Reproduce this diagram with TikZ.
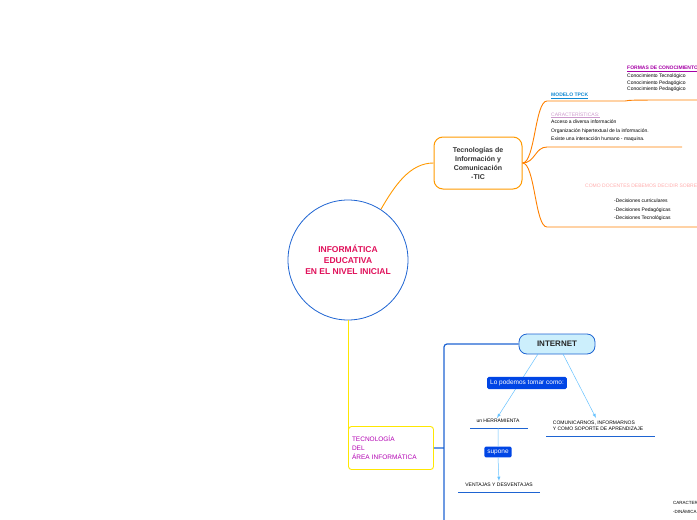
\documentclass[tikz,border=0pt]{standalone}
\usepackage{fontspec}
\setmainfont{Liberation Sans}
\begin{document}
\begin{tikzpicture}[x=1pt,y=-1pt,
 sm/.style={font=\fontsize{5}{6.5}\selectfont,inner sep=0pt},
 bluebox/.style={fill=blue!70!cyan!90!black,rounded corners=1.5pt,text=white,font=\fontsize{6.5}{8}\selectfont,inner sep=3pt},
 org/.style={draw=orange,line width=0.9pt},
 thin/.style={draw=blue!40!cyan!60,line width=0.5pt}]
\useasboundingbox (0,0) rectangle (697,520);
\definecolor{mag}{HTML}{E0105A}
\definecolor{bl}{HTML}{1E64D2}
% central
\node[circle,draw=bl,line width=0.8pt,minimum size=120pt,align=center,text=mag,font=\bfseries\fontsize{8.5}{11}\selectfont] (c) at (348,260) {INFORMÁTICA\\EDUCATIVA\\EN EL NIVEL INICIAL};
% TIC
\node[draw=orange!80!yellow,line width=1pt,rounded corners=9pt,minimum width=88pt,minimum height=52pt,align=center,text=black!80,font=\bfseries\fontsize{7}{9}\selectfont] (tic) at (478,163) {Tecnologías de\\Información y\\Comunicación\\-TIC};
\draw[draw=orange!80!yellow,line width=0.9pt] (c.57) .. controls (395,185) and (410,163) .. (tic.west);
% branches
\coordinate (a1) at (547,101);
\coordinate (a2) at (547,147);
\coordinate (a3) at (547,227);
\draw[org] (tic.east) .. controls (535,163) and (535,101) .. (a1) -- (625,101) .. controls (630,100) .. (697,100);
\draw[org] (tic.east) .. controls (535,163) and (535,147) .. (a2) -- (682,147);
\draw[org] (tic.east) .. controls (535,163) and (535,227) .. (a3) -- (697,227);
\node[sm,anchor=west,text=cyan!70!blue,font=\bfseries\fontsize{5}{6}\selectfont] (tp) at (551,96) {\underline{MODELO TPCK}};
\node[sm,anchor=west,text=violet!70!magenta,font=\bfseries\fontsize{5}{6}\selectfont] (fc) at (627,69) {\underline{FORMAS DE CONOCIMIENTO}};
\node[sm,anchor=north west,align=left] (fl) at (627,74) {Conocimiento Tecnológico\\Conocimiento Pedagógico\\Conocimiento Pedagógico};
\node[sm,anchor=west,text=violet!40,font=\fontsize{5}{6}\selectfont] (ca) at (551,115) {\underline{CARACTERÍSTICAS:}};
\node[sm,anchor=north west,align=left,font=\fontsize{5}{8.5}\selectfont] (cl) at (551,120) {Acceso a diversa información\\Organización hipertextual de la información.\\Existe una interacción humano - maquina.};
\node[sm,anchor=west,text=pink!90!red] (cd) at (585,186) {COMO DOCENTES DEBEMOS DECIDIR SOBRE};
\node[sm,anchor=north west,align=left,font=\fontsize{5}{8.5}\selectfont] (dl) at (614,199) {-Decisiones curriculares\\-Decisiones Pedagógicas\\-Decisiones Tecnológicas};
% tecnologia
\node[draw=yellow!90!orange,line width=0.9pt,rounded corners=3pt,minimum width=85pt,minimum height=43pt,align=left,text=violet!60!magenta,font=\fontsize{6.5}{9}\selectfont,text width=78pt] (tec) at (391,448) {TECNOLOGÍA\\DEL\\ÁREA INFORMÁTICA};
\draw[draw=yellow!90!orange,line width=0.9pt] (c.south) -- (348,448) -- (tec.west);
% internet
\node[draw=bl,fill=cyan!20,line width=0.8pt,rounded corners=8pt,minimum width=76pt,minimum height=20pt,font=\bfseries\fontsize{8}{10}\selectfont,text=black!85] (in) at (557,344) {INTERNET};
\draw[draw=bl,line width=1.2pt,rounded corners=3pt] (tec.east) -- (444,448) (444,520) -- (444,344) -- (in.west);
\coordinate (h) at (497,418);
\coordinate (k) at (596,418);
\draw[thin,-latex] (538,354) -- (h);
\draw[thin,-latex] (563,354) -- (k);
\node[bluebox] (lp) at (527,383) {Lo podemos tomar como:};
\node[sm] (he) at (498,421) {un HERRAMIENTA};
\draw[bl,line width=0.9pt] (470,428) -- (528,428);
\node[bluebox] (su) at (498,452) {supone};
\coordinate (v) at (499,481);
\draw[thin,-latex] (498,428) -- (su.north) (su.south) -- (v);
\node[sm] (ve) at (499,485) {VENTAJAS Y DESVENTAJAS};
\draw[bl,line width=0.9pt] (458,492) -- (540,492);
\node[sm,align=left] (co) at (598,426) {COMUNICARNOS, INFORMARNOS\\Y COMO SOPORTE DE APRENDIZAJE};
\draw[bl,line width=0.9pt] (546,436) -- (655,436);
\node[sm,anchor=north west,align=left,font=\fontsize{4.5}{9}\selectfont] (cr) at (673,500) {CARACTERÍSTICAS\\-DINÁMICA};
\end{tikzpicture}
\end{document}
